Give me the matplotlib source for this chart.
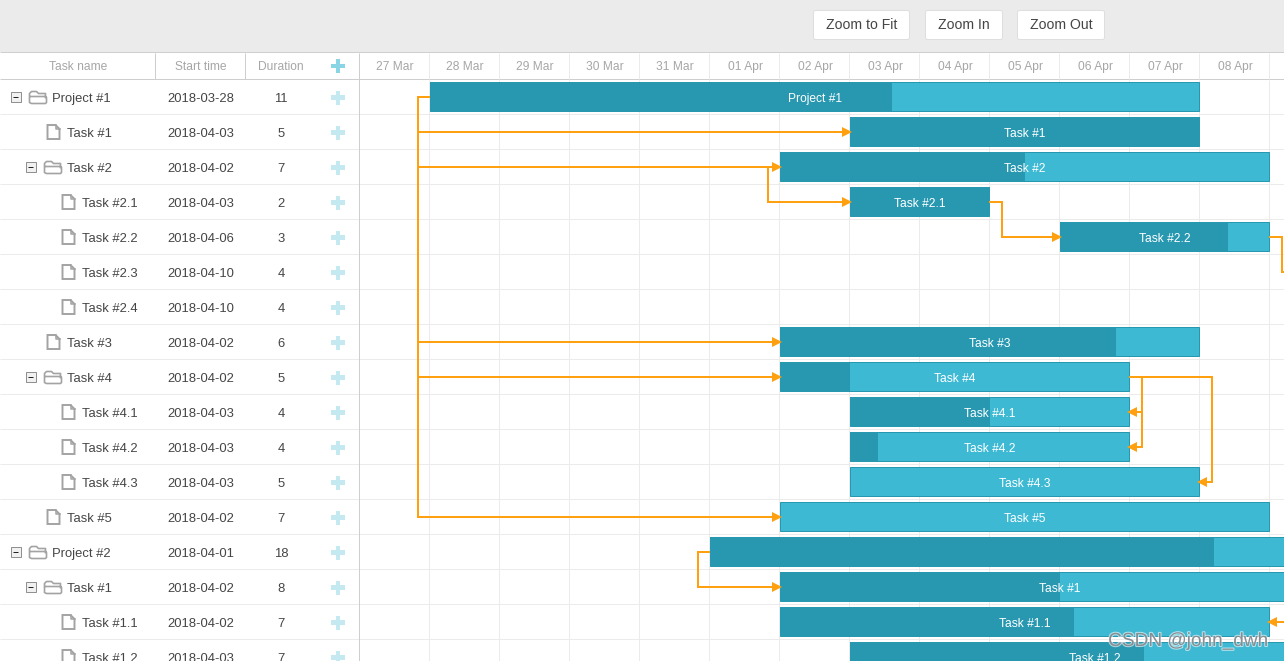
from datetime import date

import matplotlib.pyplot as plt
import matplotlib.patheffects as pe
from matplotlib.patches import Rectangle, FancyBboxPatch, Polygon

plt.rcParams['font.family'] = ['Liberation Sans', 'DejaVu Sans']

task_names = ['Project #1', 'Task #1', 'Task #2', 'Task #2.1', 'Task #2.2', 'Task #2.3', 'Task #2.4',
              'Task #3', 'Task #4', 'Task #4.1', 'Task #4.2', 'Task #4.3', 'Task #5',
              'Project #2', 'Task #1', 'Task #1.1', 'Task #1.2']
levels = [0, 1, 1, 2, 2, 2, 2, 1, 1, 2, 2, 2, 1, 0, 1, 2, 2]
is_parent = [1, 0, 1, 0, 0, 0, 0, 0, 1, 0, 0, 0, 0, 1, 1, 0, 0]
start_dates = ['2018-03-28', '2018-04-03', '2018-04-02', '2018-04-03', '2018-04-06', '2018-04-10', '2018-04-10',
               '2018-04-02', '2018-04-02', '2018-04-03', '2018-04-03', '2018-04-03', '2018-04-02',
               '2018-04-01', '2018-04-02', '2018-04-02', '2018-04-03']
durations = [11, 5, 7, 2, 3, 4, 4, 6, 5, 4, 4, 5, 7, 18, 8, 7, 7]
progress = [0.6, 1.0, 0.5, 1.0, 0.8, 0.0, 0.0, 0.8, 0.2, 0.5, 0.1, 0.0, 0.0, 0.4, 0.5, 0.6, 0.6]
day_labels = ['27 Mar', '28 Mar', '29 Mar', '30 Mar', '31 Mar', '01 Apr', '02 Apr', '03 Apr',
              '04 Apr', '05 Apr', '06 Apr', '07 Apr', '08 Apr']
buttons = ['Zoom to Fit', 'Zoom In', 'Zoom Out']

# links: source row, target row
start_start = [(0, 1), (0, 2), (0, 7), (0, 8), (0, 12), (2, 3), (13, 14)]
finish_start = [(3, 4), (4, 5)]
finish_finish = [(8, 9), (8, 10), (8, 11), (14, 15)]

W, H = 1284, 661
DAY_PX = 70
ROW_PX = 35
TOP = 80
LEFT = 359
PX = 0.72  # one pixel in points

DARK = '#2898b0'
LIGHT = '#3db9d3'
LINK = '#ffa011'
GRID = '#ebebeb'
BORDER = '#cecece'
TEXT = '#454545'
MUTED = '#a6a6a6'
ICON = '#a3a3a3'

t0 = date(2018, 3, 27)
# bars sit one pixel right of the day gridline
starts = [(date.fromisoformat(d) - t0).days + 1 / DAY_PX for d in start_dates]
ends = [s + d - 1 / DAY_PX for s, d in zip(starts, durations)]
widths = [e - s for s, e in zip(starts, ends)]

fig = plt.figure(figsize=(W / 100, H / 100), dpi=100)
base = fig.add_axes([0, 0, 1, 1])
base.set_xlim(0, W)
base.set_ylim(H, 0)
base.axis('off')

# toolbar
base.add_patch(Rectangle((0, 0), W, 52, color='#ebebeb', lw=0))
for label, (x0, x1) in zip(buttons, [(813.5, 909.5), (925.5, 1002.5), (1017.5, 1104.5)]):
    base.add_patch(FancyBboxPatch((x0 + 1, 11.5), x1 - x0 - 2, 27, boxstyle='round,pad=1,rounding_size=2',
                                  fc='white', ec='#dedede', lw=PX))
    base.text((x0 + x1) / 2, 29, label, ha='center', va='baseline', fontsize=10.1, color=TEXT)

# grid header
base.hlines([52, 79], 0, W, color=BORDER, lw=PX)
base.vlines([155, 245], 53, 79, color=BORDER, lw=PX)
for x, label in [(78, 'Task name'), (201, 'Start time'), (281, 'Duration')]:
    base.text(x, 70.2, label, ha='center', va='baseline', fontsize=8.64, color=MUTED)


def plus(y, color):
    base.add_patch(Rectangle((331, y - 2.25), 14, 4.5, color=color, lw=0))
    base.add_patch(Rectangle((335.75, y - 7), 4.5, 14, color=color, lw=0))


plus(66, '#8ad5e5')

# grid rows
for i, name in enumerate(task_names):
    yc = TOP + ROW_PX * i + 17.5
    base.hlines(TOP + ROW_PX * (i + 1) - 1, 0, W, color=GRID, lw=PX)
    tx = 52 + 15 * levels[i]
    yb = yc + 4.7
    base.text(tx, yb, name, va='baseline', fontsize=9.36, color=TEXT)
    base.text(201, yb, start_dates[i], ha='center', va='baseline', fontsize=9.36, color=TEXT)
    base.text(281, yb, str(durations[i]), ha='center', va='baseline', fontsize=9.36, color=TEXT)
    plus(yc, '#c5e9f1')
    if is_parent[i]:
        base.add_patch(Rectangle((tx - 41.5, yc - 5.5), 10, 10, fc='#f1f1f1', ec='#909090', lw=PX))
        base.plot([tx - 39, tx - 34], [yc - 0.5, yc - 0.5], color='#222222', lw=PX, solid_capstyle='butt')
        fx = tx - 22.5
        base.plot([fx + 16, fx + 16, fx + 9, fx + 7, fx + 2, fx, fx, fx + 2, fx + 16, fx + 17, fx + 17, fx + 16, fx + 1],
                  [yc + 0, yc - 4, yc - 4, yc - 6, yc - 6, yc - 4, yc + 5, yc + 6, yc + 6, yc + 5, yc, yc - 1, yc - 1],
                  color=ICON, lw=1.2)
    else:
        fx = tx - 19.5
        base.add_patch(Polygon([(fx, yc - 7.5), (fx + 8, yc - 7.5), (fx + 12, yc - 3.5), (fx + 12, yc + 6.5), (fx, yc + 6.5)],
                               closed=True, fc='white', ec=ICON, lw=1.4))
        base.plot([fx + 8, fx + 8, fx + 12], [yc - 7.5, yc - 3.5, yc - 3.5], color=ICON, lw=1.1)

base.vlines(359, 53, H, color=BORDER, lw=PX)

# timeline area, x in days from 27 Mar, y in rows
ax = fig.add_axes([LEFT / W, 0, (W - LEFT) / W, (H - TOP) / H])
ax.set_xlim(0, (W - LEFT) / DAY_PX)
ax.set_ylim((H - TOP) / ROW_PX, 0)
ax.axis('off')
ax.patch.set_alpha(0)

for d, label in enumerate(day_labels):
    ax.text(d + 0.5 + 1 / DAY_PX, -9.8 / ROW_PX, label, ha='center', va='baseline', fontsize=8.64, color=MUTED,
            clip_on=False)
    ax.vlines(d + 1, -27 / ROW_PX, -1 / ROW_PX, color=GRID, lw=PX, clip_on=False)
    ax.vlines(d + 1, 0, len(task_names) + 1, color=GRID, lw=PX, zorder=1)

rows = range(len(task_names))
centers = [r + 17 / ROW_PX for r in rows]
bar_centers = [r + 16.8 / ROW_PX for r in rows]
bar_h = 29 / ROW_PX
ax.barh(bar_centers, widths, left=starts, height=bar_h, color=LIGHT, edgecolor=DARK, lw=PX, zorder=2)
ax.barh(bar_centers, [d * p for d, p in zip(durations, progress)], left=starts, height=bar_h,
        color=DARK, lw=0, zorder=3)
for r in rows:
    mid = starts[r] + durations[r] / 2
    # labels of bars centred past the right edge are not on screen
    if mid < ax.get_xlim()[1]:
        ax.text(mid, r + 22.2 / ROW_PX, task_names[r], ha='center', va='baseline',
                fontsize=8.64, color='white', zorder=6, clip_on=True)

# dependency links
gap = 12 / DAY_PX
gap_right = 13 / DAY_PX
tip = 3 / DAY_PX


def link(xs, ys, head):
    ax.plot(xs, ys, color=LINK, lw=1.44, zorder=4, solid_capstyle='butt', solid_joinstyle='miter')
    ax.plot(xs[-1] + (tip if head == '<' else -tip), ys[-1], marker=head, ms=6.5, mfc=LINK, mec=LINK, mew=0, zorder=5)


for a, b in start_start:
    link([starts[a], starts[a] - gap, starts[a] - gap, starts[b]], [centers[a], centers[a], centers[b], centers[b]], '>')
for a, b in finish_start:
    link([ends[a], ends[a] + gap_right, ends[a] + gap_right, starts[b]], [centers[a], centers[a], centers[b], centers[b]], '>')
for a, b in finish_finish:
    turn = max(ends[a], ends[b]) + gap_right
    link([ends[a], turn, turn, ends[b]], [centers[a], centers[a], centers[b], centers[b]], '<')

# watermark
top = fig.add_axes([0, 0, 1, 1])
top.set_xlim(0, W)
top.set_ylim(H, 0)
top.axis('off')
top.patch.set_alpha(0)
top.text(1188, 646, 'CSDN @john_dwh', ha='center', va='baseline', fontsize=13.7, color='#80868c', alpha=0.9,
         path_effects=[pe.withStroke(linewidth=1.5, foreground='white', alpha=0.6)])

fig.savefig('out.png', dpi=100)
